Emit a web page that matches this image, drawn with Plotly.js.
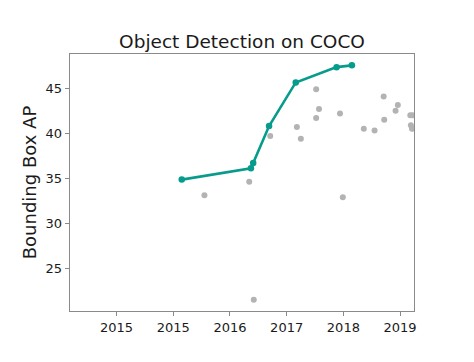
<!DOCTYPE html>
<html>
<head>
<meta charset="utf-8">
<script src="https://cdn.plot.ly/plotly-3.0.1.min.js"></script>
<style>html,body{margin:0;padding:0;background:#fff}#chart{width:474px;height:362px}</style>
</head>
<body>
<div id="chart"></div>
<script>
// State-of-the-art frontier (teal line)
const sotaYear = [2015.15, 2016.37, 2016.41, 2016.69, 2017.16, 2017.88, 2018.15];
const sotaAP   = [34.9, 36.15, 36.75, 40.85, 45.7, 47.4, 47.6];

// Other published results (grey dots)
const otherYear = [2015.55, 2016.34, 2016.42, 2016.71, 2017.18, 2017.25, 2017.52, 2017.57, 2017.52,
                   2017.94, 2017.99, 2018.36, 2018.55, 2018.71, 2018.72, 2018.92, 2018.96,
                   2019.18, 2019.22, 2019.19, 2019.21];
const otherAP   = [33.15, 34.65, 21.55, 39.75, 40.75, 39.45, 44.95, 42.75, 41.75,
                   42.25, 32.95, 40.55, 40.35, 44.15, 41.55, 42.55, 43.2,
                   42.05, 42.05, 40.95, 40.55];

const tickVals = [2014, 2015, 2016, 2017, 2018, 2019];
const tickText = ['2015', '2015', '2016', '2017', '2018', '2019'];

const font = 'DejaVu Sans, sans-serif';

const traces = [
  {
    x: otherYear, y: otherAP, type: 'scatter', mode: 'markers',
    marker: {color: '#b3b3b3', size: 6},
    hoverinfo: 'x+y', showlegend: false
  },
  {
    x: sotaYear, y: sotaAP, type: 'scatter', mode: 'lines+markers',
    line: {color: '#079b8c', width: 2.6},
    marker: {color: '#079b8c', size: 6.5},
    showlegend: false
  }
];

const axisCommon = {
  showline: true, mirror: true, linecolor: '#8a8a8a', linewidth: 1.3,
  ticks: 'outside', ticklen: 4, tickcolor: '#8a8a8a', tickwidth: 1,
  showgrid: false, zeroline: false,
  tickfont: {family: font, size: 13, color: '#1a1a1a'}
};

const layout = {
  width: 474, height: 362,
  margin: {l: 70, r: 60, t: 54, b: 51},
  paper_bgcolor: '#fff', plot_bgcolor: '#fff',
  title: {
    text: 'Object Detection on COCO',
    font: {family: font, size: 18.5, color: '#1a1a1a'},
    x: 0.5, xref: 'paper', xanchor: 'center',
    y: 1 - 42/362, yref: 'container', yanchor: 'middle'
  },
  xaxis: Object.assign({}, axisCommon, {
    range: [2013.18, 2019.245],
    tickmode: 'array', tickvals: tickVals, ticktext: tickText
  }),
  yaxis: Object.assign({}, axisCommon, {
    range: [20.3, 48.86],
    tickmode: 'array', tickvals: [25, 30, 35, 40, 45],
    title: {text: 'Bounding Box AP', font: {family: font, size: 18, color: '#1a1a1a'}, standoff: 4}
  })
};

Plotly.newPlot('chart', traces, layout, {displayModeBar: false, staticPlot: true});
</script>
</body>
</html>
